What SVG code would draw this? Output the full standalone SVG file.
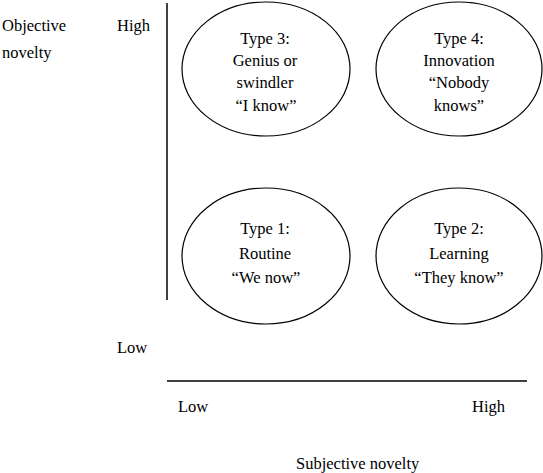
<svg xmlns="http://www.w3.org/2000/svg" width="543" height="473" viewBox="0 0 543 473">
<style>
text{font-family:'Liberation Serif','Times New Roman','DejaVu Serif',serif;font-size:16.5px;fill:#000}
.c{text-anchor:middle}
ellipse{fill:#fff;stroke:#000;stroke-width:1.2}
line{stroke:#000;stroke-width:1.5}
</style>
<rect width="543" height="473" fill="#fff"/>
<g id="axes">
<line x1="167" y1="3" x2="167" y2="300"/>
<line x1="167" y1="381" x2="527" y2="381"/>
</g>
<g id="labels">
<text x="2" y="31">Objective</text>
<text x="2" y="58">novelty</text>
<text x="117" y="31">High</text>
<text x="117" y="353">Low</text>
<text x="178" y="412">Low</text>
<text x="472" y="412">High</text>
<text x="296" y="469">Subjective novelty</text>
</g>
<g id="type3">
<ellipse cx="266" cy="69" rx="84" ry="67"/>
<text class="c" x="265" y="44">Type 3:</text>
<text class="c" x="265" y="66">Genius or</text>
<text class="c" x="265" y="88">swindler</text>
<text class="c" x="266" y="111">“I know”</text>
</g>
<g id="type4">
<ellipse cx="459" cy="69" rx="83" ry="67"/>
<text class="c" x="459" y="44">Type 4:</text>
<text class="c" x="459" y="66">Innovation</text>
<text class="c" x="459" y="88">“Nobody</text>
<text class="c" x="459" y="111">knows”</text>
</g>
<g id="type1">
<ellipse cx="266" cy="256" rx="84" ry="68"/>
<text class="c" x="265" y="234">Type 1:</text>
<text class="c" x="265" y="259">Routine</text>
<text class="c" x="266" y="283">“We now”</text>
</g>
<g id="type2">
<ellipse cx="459" cy="256" rx="83" ry="68"/>
<text class="c" x="459" y="234">Type 2:</text>
<text class="c" x="459" y="259">Learning</text>
<text class="c" x="459" y="283">“They know”</text>
</g>
</svg>
